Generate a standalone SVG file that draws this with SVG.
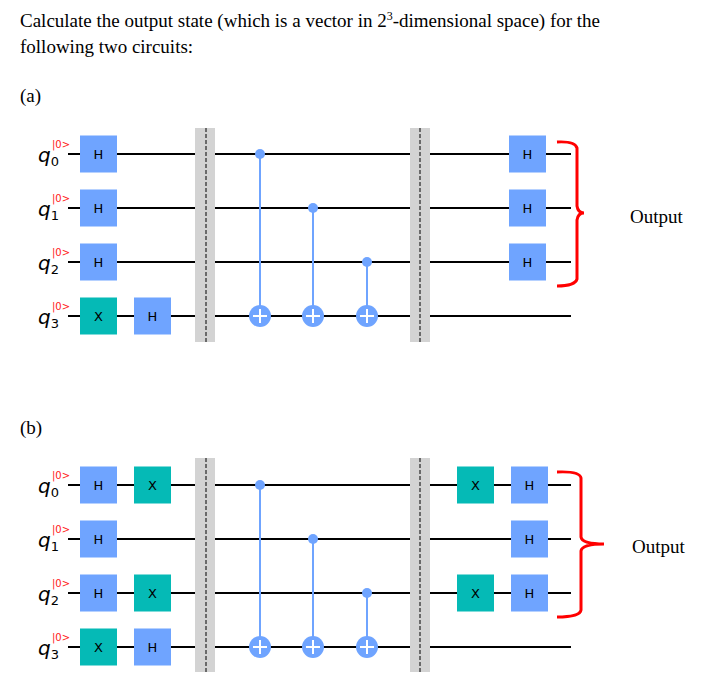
<svg xmlns="http://www.w3.org/2000/svg" width="721" height="686" viewBox="0 0 721 686">
<style>
.t{font-family:"Liberation Serif",serif;font-size:19px;fill:#000}
.w{stroke:#000;stroke-width:2}
.h{fill:#6fa4ff}
.x{fill:#05bab6}
.g{font-family:"DejaVu Sans",sans-serif;font-size:13px;fill:#000;text-anchor:middle}
.q{font-family:"DejaVu Sans",sans-serif;font-style:italic;font-size:20px;fill:#000}
.k{font-family:"DejaVu Sans",sans-serif;font-size:10px;fill:#ff2020}
.bar{fill:#d3d3d3}
.dash{stroke:#000;stroke-width:1;stroke-dasharray:4,2}
.c{stroke:#6fa4ff;stroke-width:2}
.br{fill:none;stroke:#f00;stroke-width:3}
</style>
<defs>
<g id="Hg"><rect x="0" y="-18.5" width="37" height="37" class="h"/><text x="18.5" y="5" class="g">H</text></g>
<g id="Xg"><rect x="0" y="-18.5" width="37" height="37" class="x"/><text x="18.5" y="5" class="g">X</text></g>
<g id="tg"><circle r="11" fill="#6fa4ff"/><path d="M-7 0H7M0 -7V7" stroke="#fff" stroke-width="2"/></g>
</defs>
<text x="20" y="27" class="t">Calculate the output state (which is a vector in 2<tspan font-size="12" dy="-7">3</tspan><tspan dy="7">-dimensional space) for the</tspan></text>
<text x="20" y="53" class="t">following two circuits:</text>
<text x="20" y="102" class="t" font-size="22">(a)</text>
<text x="20" y="434" class="t" font-size="22">(b)</text>

<g id="circuitA">
<g id="wiresA">
<line x1="68" y1="154" x2="571" y2="154" class="w"/>
<line x1="68" y1="208" x2="571" y2="208" class="w"/>
<line x1="68" y1="262" x2="571" y2="262" class="w"/>
<line x1="68" y1="316" x2="571" y2="316" class="w"/>
</g>
<g id="labelsA">
<text x="38" y="162" class="q">q<tspan font-size="13" font-style="normal" dy="4">0</tspan></text><text x="52" y="148" class="k">|0&gt;</text>
<text x="38" y="216" class="q">q<tspan font-size="13" font-style="normal" dy="4">1</tspan></text><text x="52" y="202" class="k">|0&gt;</text>
<text x="38" y="270" class="q">q<tspan font-size="13" font-style="normal" dy="4">2</tspan></text><text x="52" y="256" class="k">|0&gt;</text>
<text x="38" y="324" class="q">q<tspan font-size="13" font-style="normal" dy="4">3</tspan></text><text x="52" y="310" class="k">|0&gt;</text>
</g>
<use href="#Hg" x="80" y="154"/><use href="#Hg" x="80" y="208"/><use href="#Hg" x="80" y="262"/><use href="#Xg" x="80" y="316"/>
<use href="#Hg" x="134" y="316"/>
<rect x="195" y="128" width="20" height="214" class="bar"/><line x1="206" y1="128" x2="206" y2="342" class="dash"/>
<rect x="410" y="128" width="20" height="214" class="bar"/><line x1="420" y1="128" x2="420" y2="342" class="dash"/>
<g id="connA">
<line x1="260" y1="154" x2="260" y2="316" class="c"/><circle cx="260" cy="154" r="5" fill="#6fa4ff"/><use href="#tg" x="260" y="316"/>
<line x1="313" y1="208" x2="313" y2="316" class="c"/><circle cx="313" cy="208" r="5" fill="#6fa4ff"/><use href="#tg" x="313" y="316"/>
<line x1="367" y1="262" x2="367" y2="316" class="c"/><circle cx="367" cy="262" r="5" fill="#6fa4ff"/><use href="#tg" x="367" y="316"/>
</g>
<use href="#Hg" x="509" y="154"/><use href="#Hg" x="509" y="208"/><use href="#Hg" x="509" y="262"/>
<path d="M557 142 Q575 141 577 148 L577 206 Q578 213 584 213 Q578 213 577 220 L577 279 Q575 286 557 286" class="br"/>
<text x="630" y="223" class="t">Output</text>
</g>

<g id="circuitB">
<g id="wiresB">
<line x1="68" y1="485" x2="571" y2="485" class="w"/>
<line x1="68" y1="539" x2="571" y2="539" class="w"/>
<line x1="68" y1="593" x2="571" y2="593" class="w"/>
<line x1="68" y1="647" x2="571" y2="647" class="w"/>
</g>
<g id="labelsB">
<text x="38" y="493" class="q">q<tspan font-size="13" font-style="normal" dy="4">0</tspan></text><text x="52" y="479" class="k">|0&gt;</text>
<text x="38" y="547" class="q">q<tspan font-size="13" font-style="normal" dy="4">1</tspan></text><text x="52" y="533" class="k">|0&gt;</text>
<text x="38" y="601" class="q">q<tspan font-size="13" font-style="normal" dy="4">2</tspan></text><text x="52" y="587" class="k">|0&gt;</text>
<text x="38" y="655" class="q">q<tspan font-size="13" font-style="normal" dy="4">3</tspan></text><text x="52" y="641" class="k">|0&gt;</text>
</g>
<use href="#Hg" x="80" y="485"/><use href="#Hg" x="80" y="539"/><use href="#Hg" x="80" y="593"/><use href="#Xg" x="80" y="647"/>
<use href="#Xg" x="134" y="485"/><use href="#Xg" x="134" y="593"/><use href="#Hg" x="134" y="647"/>
<rect x="195" y="458" width="20" height="214" class="bar"/><line x1="206" y1="458" x2="206" y2="672" class="dash"/>
<rect x="410" y="458" width="20" height="214" class="bar"/><line x1="420" y1="458" x2="420" y2="672" class="dash"/>
<g id="connB">
<line x1="260" y1="485" x2="260" y2="647" class="c"/><circle cx="260" cy="485" r="5" fill="#6fa4ff"/><use href="#tg" x="260" y="647"/>
<line x1="313" y1="539" x2="313" y2="647" class="c"/><circle cx="313" cy="539" r="5" fill="#6fa4ff"/><use href="#tg" x="313" y="647"/>
<line x1="367" y1="593" x2="367" y2="647" class="c"/><circle cx="367" cy="593" r="5" fill="#6fa4ff"/><use href="#tg" x="367" y="647"/>
</g>
<use href="#Xg" x="457" y="485"/><use href="#Xg" x="457" y="593"/>
<use href="#Hg" x="511" y="485"/><use href="#Hg" x="511" y="539"/><use href="#Hg" x="511" y="593"/>
<path d="M557 472 Q580 471 581 478 L581 537 Q582 544 604 544 Q582 544 581 551 L581 610 Q580 617 557 617" class="br"/>
<text x="632" y="553" class="t">Output</text>
</g>
</svg>
